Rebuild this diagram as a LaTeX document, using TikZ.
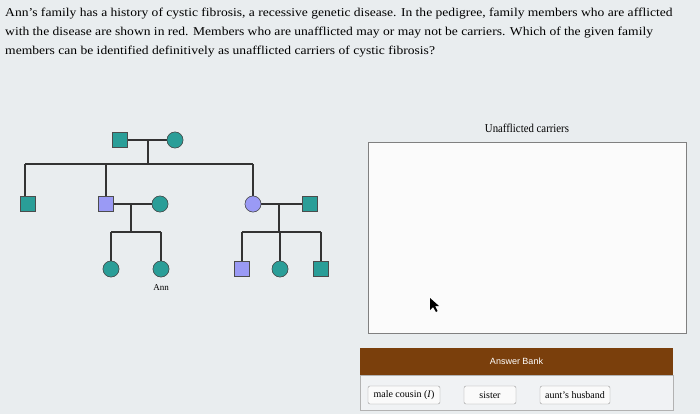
\documentclass[tikz,border=0pt]{standalone}
\usepackage{fontspec}
\setmainfont{Liberation Serif}
\setsansfont{Liberation Sans}
\begin{document}
\begin{tikzpicture}[x=1pt,y=-1pt,
  teal/.style={fill=tealc,draw=black!70,line width=0.5pt},
  lav/.style={fill=lavc,draw=black!70,line width=0.5pt},
  sq/.style={minimum size=15pt,inner sep=0pt,rectangle},
  ci/.style={minimum size=16pt,inner sep=0pt,circle},
  ln/.style={draw=black!80,line width=1.2pt},
  qt/.style={anchor=base west,inner sep=0pt,xscale=1.13,font=\fontsize{12}{14}\selectfont},
  btn/.style={draw=black!40,rounded corners=2pt,fill=white!96!gray,minimum height=18pt,font=\fontsize{10}{11}\selectfont}]
\definecolor{tealc}{HTML}{2A9E98}
\definecolor{lavc}{HTML}{9A9AF5}
\definecolor{bgc}{HTML}{E9EDEF}
\definecolor{brownc}{HTML}{7A3F0C}
\fill[bgc] (0,0) rectangle (700,414);
\useasboundingbox (0,0) rectangle (700,414);
\node[qt] (l1) at (5,17) {Ann's family has a history of cystic fibrosis, a recessive genetic disease. In the pedigree, family members who are afflicted};
\node[qt] (l2) at (5,36) {with the disease are shown in red. Members who are unafflicted may or may not be carriers. Which of the given family};
\node[qt] (l3) at (5,55) {members can be identified definitively as unafflicted carriers of cystic fibrosis?};
% pedigree
\coordinate (gm) at (148,140);
\coordinate (gd) at (148,164);
\coordinate (b1) at (25,164);
\coordinate (b3) at (253,164);
\coordinate (lm) at (131,204);
\coordinate (ld) at (131,232);
\coordinate (rm) at (279,204);
\coordinate (rd) at (279,232);
\node[sq,teal] (gf) at (120,140) {};
\node[ci,teal] (gmo) at (175,140) {};
\node[sq,teal] (c1) at (28,204) {};
\node[sq,lav] (c2) at (106,204) {};
\node[ci,teal] (c2w) at (160,204) {};
\node[ci,lav] (c3) at (253,204) {};
\node[sq,teal] (c3h) at (310,204) {};
\node[ci,teal] (g1) at (111,269) {};
\node[ci,teal] (ann) at (161,269) {};
\node[sq,lav] (g2) at (242,269) {};
\node[ci,teal] (g3) at (280,269) {};
\node[sq,teal] (g4) at (321,269) {};
\node[font=\fontsize{9}{10}\selectfont] (annl) at (161,288) {Ann};
\draw[ln] (gf) -- (gmo);
\draw[ln] (gm) -- (gd);
\draw[ln] (b1) -- (b3);
\draw[ln] (b1) -- (c1.north -| b1);
\draw[ln] (c2.north |- gd) -- (c2);
\draw[ln] (b3) -- (c3);
\draw[ln] (c2) -- (c2w);
\draw[ln] (lm) -- (ld);
\draw[ln] (ld -| g1) -- (ld -| ann);
\draw[ln] (ld -| g1) -- (g1);
\draw[ln] (ld -| ann) -- (ann);
\draw[ln] (c3) -- (c3h);
\draw[ln] (rm) -- (rd);
\draw[ln] (rd -| g2) -- (rd -| g4);
\draw[ln] (rd -| g2) -- (g2);
\draw[ln] (rd -| g3) -- (g3);
\draw[ln] (rd -| g4) -- (g4);
\node[sq,teal] at (gf) {};
\node[ci,teal] at (gmo) {};
\node[sq,teal] at (c1) {};
\node[sq,lav] at (c2) {};
\node[ci,teal] at (c2w) {};
\node[ci,lav] at (c3) {};
\node[sq,teal] at (c3h) {};
\node[ci,teal] at (g1) {};
\node[ci,teal] at (ann) {};
\node[sq,lav] at (g2) {};
\node[ci,teal] at (g3) {};
\node[sq,teal] at (g4) {};
% right panel
\node[xscale=0.9,font=\fontsize{12}{14}\selectfont] (uc) at (527,128) {Unafflicted carriers};
\draw[black!50,fill=white!97!gray] (368,142) rectangle (686,333);
\node[draw=none,fill=brownc,minimum width=313pt,minimum height=27pt,inner sep=0pt,font=\sffamily\fontsize{9}{10}\selectfont,text=white] (ab) at (516.5,361.5) {Answer Bank};
\draw[black!30,fill=bgc!70!white] (360,375) rectangle (673,410);
\node[btn,minimum width=72pt] (m1) at (404,395) {male cousin (\textit{I})};
\node[btn,minimum width=52pt] (m2) at (490,395) {sister};
\node[btn,minimum width=70pt] (m3) at (575,395) {aunt's husband};
\fill[black] (430,298) -- (430,310) -- (433,307) -- (436,312) -- (437.5,311) -- (435,306) -- (439,306) -- cycle;
\end{tikzpicture}
\end{document}
